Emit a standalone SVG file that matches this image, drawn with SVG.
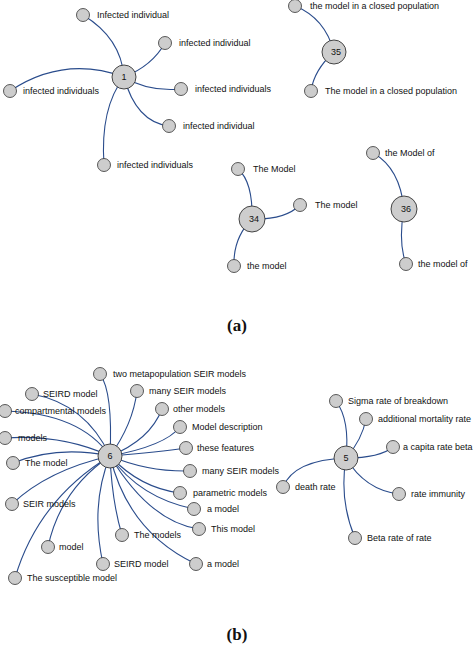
<svg xmlns="http://www.w3.org/2000/svg" width="474" height="645" viewBox="0 0 474 645">
<style>
.e{fill:none;stroke:#2a4c8c;stroke-width:1.1}
.h{fill:#cdcdcd;stroke:#333;stroke-width:0.9}
.l{fill:#cdcdcd;stroke:#333;stroke-width:0.8}
text{font-family:"Liberation Sans",Arial,sans-serif;font-size:9px;fill:#111}
.c{text-anchor:middle}
.cap{font-family:"Liberation Serif","Times New Roman",serif;font-size:17px;font-weight:bold;text-anchor:middle}
</style>
<rect width="474" height="645" fill="#fff"/>
<g id="connectors">
<path class="e" d="M124,77 Q121,38 83,15"/>
<path class="e" d="M124,77 Q152,66 165,43"/>
<path class="e" d="M124,77 Q64,55 10,91"/>
<path class="e" d="M124,77 Q148,92 181,89"/>
<path class="e" d="M124,77 Q136,122 169,126"/>
<path class="e" d="M124,77 Q100,108 104,165"/>
<path class="e" d="M334,52 Q325,18 295,6"/>
<path class="e" d="M334,52 Q314,70 311,91"/>
<path class="e" d="M252,219 Q253,182 238,169"/>
<path class="e" d="M252,219 Q285,220 300,205"/>
<path class="e" d="M252,219 Q233,238 234,266"/>
<path class="e" d="M404,209 Q400,168 373,153"/>
<path class="e" d="M404,209 Q398,242 406,264"/>
<path class="e" d="M110,456 Q113,392 100,374"/>
<path class="e" d="M110,456 Q133,424 137,391"/>
<path class="e" d="M110,456 Q86,404 32,394"/>
<path class="e" d="M110,456 Q150,440 162,409"/>
<path class="e" d="M110,456 Q80,413 5,411"/>
<path class="e" d="M110,456 Q165,446 180,427"/>
<path class="e" d="M110,456 Q62,434 5,438"/>
<path class="e" d="M110,456 Q160,452 186,448"/>
<path class="e" d="M110,456 Q58,445 13,463"/>
<path class="e" d="M110,456 Q148,472 190,471"/>
<path class="e" d="M110,456 Q140,488 180,493"/>
<path class="e" d="M110,456 Q48,470 12,504"/>
<path class="e" d="M110,456 Q140,498 194,509"/>
<path class="e" d="M110,456 Q150,522 199,529"/>
<path class="e" d="M110,456 Q112,502 122,535"/>
<path class="e" d="M110,456 Q60,490 48,547"/>
<path class="e" d="M110,456 Q90,505 103,564"/>
<path class="e" d="M110,456 Q128,532 196,564"/>
<path class="e" d="M110,456 Q38,500 15,578"/>
<path class="e" d="M346,458 Q350,420 336,401"/>
<path class="e" d="M346,458 Q362,440 366,419"/>
<path class="e" d="M346,458 Q380,458 393,447"/>
<path class="e" d="M346,458 Q294,460 283,487"/>
<path class="e" d="M346,458 Q365,490 399,494"/>
<path class="e" d="M346,458 Q339,500 355,538"/>
</g>
<g id="n1"><circle class="h" cx="124" cy="77" r="12"/><text class="c" x="124" y="80">1</text></g>
<g id="n1a"><circle class="l" cx="83" cy="15" r="6.5"/><text x="97" y="18">Infected individual</text></g>
<g id="n1b"><circle class="l" cx="165" cy="43" r="6.5"/><text x="179" y="46">infected individual</text></g>
<g id="n1c"><circle class="l" cx="10" cy="91" r="6.5"/><text x="23" y="94">infected individuals</text></g>
<g id="n1d"><circle class="l" cx="181" cy="89" r="6.5"/><text x="195" y="92">infected individuals</text></g>
<g id="n1e"><circle class="l" cx="169" cy="126" r="6.5"/><text x="183" y="129">infected individual</text></g>
<g id="n1f"><circle class="l" cx="104" cy="165" r="6.5"/><text x="117" y="168">infected individuals</text></g>
<g id="n35"><circle class="h" cx="334" cy="52" r="12"/><text class="c" x="336" y="55">35</text></g>
<g id="n35a"><circle class="l" cx="295" cy="6" r="6.5"/><text x="310" y="9">the model in a closed population</text></g>
<g id="n35b"><circle class="l" cx="311" cy="91" r="6.5"/><text x="325" y="94">The model in a closed population</text></g>
<g id="n34"><circle class="h" cx="252" cy="219" r="13"/><text class="c" x="254" y="222">34</text></g>
<g id="n34a"><circle class="l" cx="238" cy="169" r="6.5"/><text x="253" y="172">The Model</text></g>
<g id="n34b"><circle class="l" cx="300" cy="205" r="6.5"/><text x="315" y="208">The model</text></g>
<g id="n34c"><circle class="l" cx="234" cy="266" r="6.5"/><text x="247" y="269">the model</text></g>
<g id="n36"><circle class="h" cx="404" cy="209" r="13"/><text class="c" x="406" y="212">36</text></g>
<g id="n36a"><circle class="l" cx="373" cy="153" r="6.5"/><text x="385" y="156">the Model of</text></g>
<g id="n36b"><circle class="l" cx="406" cy="264" r="6.5"/><text x="418" y="267">the model of</text></g>
<g id="n6"><circle class="h" cx="110" cy="456" r="12"/><text class="c" x="110" y="459">6</text></g>
<g id="n6a"><circle class="l" cx="100" cy="374" r="6.5"/><text x="113" y="377">two metapopulation SEIR models</text></g>
<g id="n6b"><circle class="l" cx="137" cy="391" r="6.5"/><text x="149" y="394">many SEIR models</text></g>
<g id="n6c"><circle class="l" cx="32" cy="394" r="6.5"/><text x="43" y="397">SEIRD model</text></g>
<g id="n6d"><circle class="l" cx="162" cy="409" r="6.5"/><text x="173" y="412">other models</text></g>
<g id="n6e"><circle class="l" cx="5" cy="411" r="6.5"/><text x="15" y="414">compartmental models</text></g>
<g id="n6f"><circle class="l" cx="180" cy="427" r="6.5"/><text x="192" y="430">Model description</text></g>
<g id="n6g"><circle class="l" cx="5" cy="438" r="6.5"/><text x="18" y="441">models</text></g>
<g id="n6h"><circle class="l" cx="186" cy="448" r="6.5"/><text x="197" y="451">these features</text></g>
<g id="n6i"><circle class="l" cx="13" cy="463" r="6.5"/><text x="25" y="466">The model</text></g>
<g id="n6j"><circle class="l" cx="190" cy="471" r="6.5"/><text x="202" y="474">many SEIR models</text></g>
<g id="n6k"><circle class="l" cx="180" cy="493" r="6.5"/><text x="193" y="496">parametric models</text></g>
<g id="n6l"><circle class="l" cx="12" cy="504" r="6.5"/><text x="23" y="507">SEIR models</text></g>
<g id="n6m"><circle class="l" cx="194" cy="509" r="6.5"/><text x="207" y="512">a model</text></g>
<g id="n6n"><circle class="l" cx="199" cy="529" r="6.5"/><text x="211" y="532">This model</text></g>
<g id="n6o"><circle class="l" cx="122" cy="535" r="6.5"/><text x="134" y="538">The models</text></g>
<g id="n6p"><circle class="l" cx="48" cy="547" r="6.5"/><text x="59" y="550">model</text></g>
<g id="n6q"><circle class="l" cx="103" cy="564" r="6.5"/><text x="114" y="567">SEIRD model</text></g>
<g id="n6r"><circle class="l" cx="196" cy="564" r="6.5"/><text x="207" y="567">a model</text></g>
<g id="n6s"><circle class="l" cx="15" cy="578" r="6.5"/><text x="27" y="581">The susceptible model</text></g>
<g id="n5"><circle class="h" cx="346" cy="458" r="12"/><text class="c" x="346" y="461">5</text></g>
<g id="n5a"><circle class="l" cx="336" cy="401" r="6.5"/><text x="348" y="404">Sigma rate of breakdown</text></g>
<g id="n5b"><circle class="l" cx="366" cy="419" r="6.5"/><text x="378" y="422">additional mortality rate</text></g>
<g id="n5c"><circle class="l" cx="393" cy="447" r="6.5"/><text x="403" y="450">a capita rate beta</text></g>
<g id="n5d"><circle class="l" cx="283" cy="487" r="6.5"/><text x="295" y="490">death rate</text></g>
<g id="n5e"><circle class="l" cx="399" cy="494" r="6.5"/><text x="411" y="497">rate immunity</text></g>
<g id="n5f"><circle class="l" cx="355" cy="538" r="6.5"/><text x="367" y="541">Beta rate of rate</text></g>
<text class="cap" x="237" y="331">(a)</text>
<text class="cap" x="237" y="640">(b)</text>
</svg>
